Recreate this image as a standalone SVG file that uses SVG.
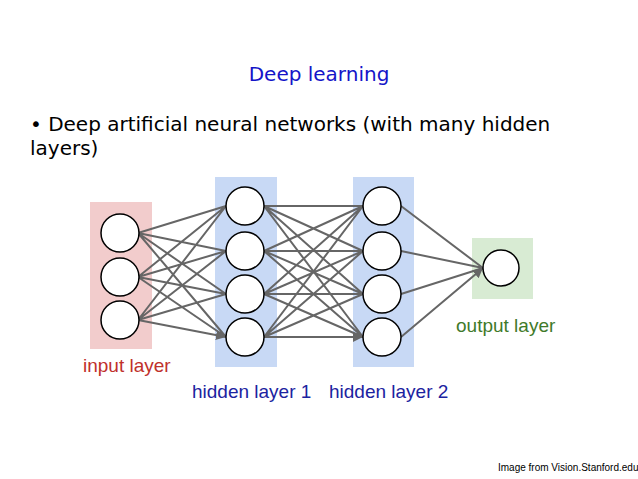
<svg xmlns="http://www.w3.org/2000/svg" width="638" height="479" viewBox="0 0 638 479">
<style>
.n{fill:#fff;stroke:#000;stroke-width:1.5}
.e{stroke:#666;stroke-width:2;marker-end:url(#a)}
.lbl{font-family:"Liberation Sans",Arial,sans-serif;font-size:19px}
.dv{font-family:"DejaVu Sans",sans-serif}
</style>
<defs><marker id="a" viewBox="0 0 10 10" refX="10" refY="5" markerWidth="5" markerHeight="5" orient="auto" markerUnits="strokeWidth"><path d="M0,0L10,5L0,10z" fill="#666"/></marker></defs>
<rect width="638" height="479" fill="#fff"/>
<text class="dv" x="319" y="81" font-size="20" fill="#1414c8" text-anchor="middle">Deep learning</text>
<text class="dv" x="30" y="131" font-size="20" fill="#000">• Deep artificial neural networks (with many hidden</text>
<text class="dv" x="30" y="155" font-size="20" fill="#000">layers)</text>
<rect x="90" y="202" width="62" height="147" fill="#f2cccc"/>
<rect x="215" y="177" width="62" height="190" fill="#c8d9f5"/>
<rect x="353" y="177" width="61" height="190" fill="#c8d9f5"/>
<rect x="472" y="238" width="61" height="61" fill="#d8ebd3"/>
<g id="connectors">
<path class="e" d="M138,233L226,206M138,233L226,251M138,233L226,294M138,233L226,337M138,277L226,206M138,277L226,251M138,277L226,294M138,277L226,337M138,320L226,206M138,320L226,251M138,320L226,294M138,320L226,337"/>
<path class="e" d="M264,206L363,206M264,206L363,251M264,206L363,294M264,206L363,337M264,251L363,206M264,251L363,251M264,251L363,294M264,251L363,337M264,294L363,206M264,294L363,251M264,294L363,294M264,294L363,337M264,337L363,206M264,337L363,251M264,337L363,294M264,337L363,337"/>
<path class="e" d="M401,206L483,268M401,251L483,268M401,294L483,268M401,337L483,268"/>
</g>
<g id="input"><circle class="n" cx="120" cy="233" r="19"/><circle class="n" cx="120" cy="277" r="19"/><circle class="n" cx="120" cy="320" r="19"/></g>
<g id="hidden1"><circle class="n" cx="245" cy="206" r="19"/><circle class="n" cx="245" cy="251" r="19"/><circle class="n" cx="245" cy="294" r="19"/><circle class="n" cx="245" cy="337" r="19"/></g>
<g id="hidden2"><circle class="n" cx="382" cy="206" r="19"/><circle class="n" cx="382" cy="251" r="19"/><circle class="n" cx="382" cy="294" r="19"/><circle class="n" cx="382" cy="337" r="19"/></g>
<g id="output"><circle class="n" cx="501" cy="268" r="18"/></g>
<text class="lbl" x="83" y="372" fill="#c0302b">input layer</text>
<text class="lbl" x="192" y="398" fill="#1c23a0">hidden layer 1</text>
<text class="lbl" x="329" y="398" fill="#1c23a0">hidden layer 2</text>
<text class="lbl" x="456" y="332" fill="#3f7a2a">output layer</text>
<text x="498" y="471" font-family="Liberation Sans,Arial,sans-serif" font-size="10" fill="#000">Image from Vision.Stanford.edu</text>
</svg>
